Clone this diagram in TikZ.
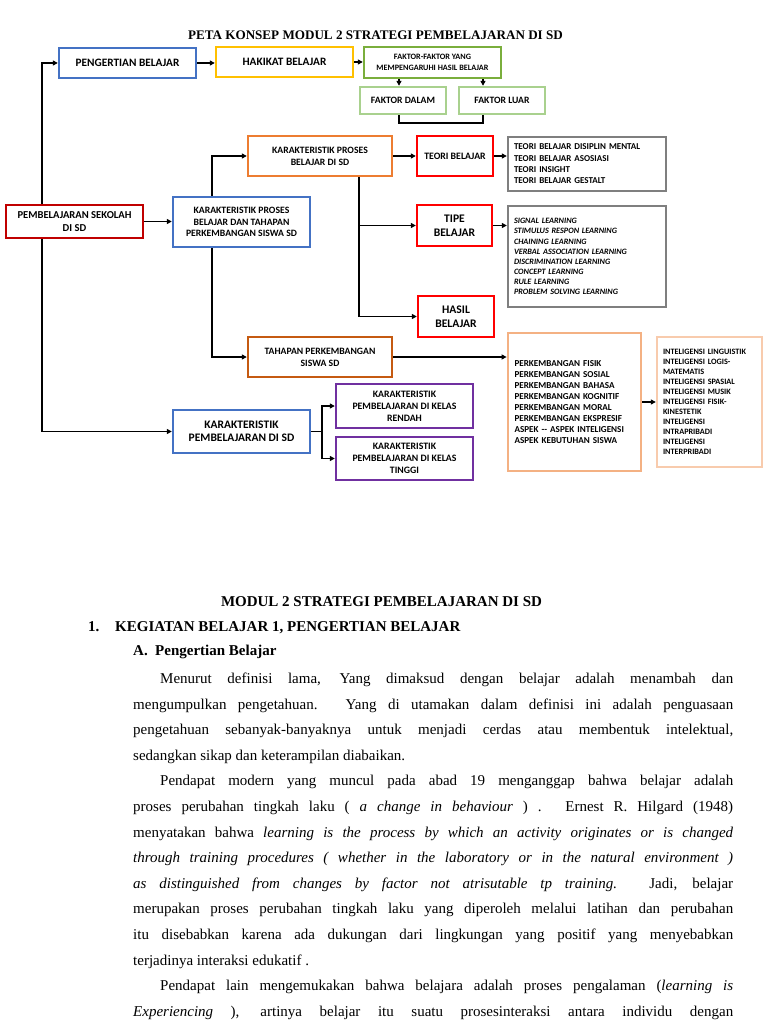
\documentclass[tikz,border=0pt]{standalone}
\usepackage{fontspec}
\setmainfont{Liberation Serif}
\newfontfamily\calfont{Carlito}
\usetikzlibrary{arrows.meta}
\newcommand\fsz[2]{\fontsize{#1}{#2}\selectfont}
\definecolor{cblue}{HTML}{4472C4}
\definecolor{cgold}{HTML}{FFC000}
\definecolor{cgreen}{HTML}{7AAE3C}
\definecolor{clgreen}{HTML}{A9D18E}
\definecolor{cdred}{HTML}{C00000}
\definecolor{corange}{HTML}{ED7D31}
\definecolor{cred}{HTML}{FF0000}
\definecolor{cgray}{HTML}{7F7F7F}
\definecolor{cbrown}{HTML}{C55A11}
\definecolor{cpeach}{HTML}{F4B183}
\definecolor{clpeach}{HTML}{F8CBAD}
\definecolor{cpurple}{HTML}{7030A0}
\tikzset{
  box/.style={draw=#1, line width=2.4pt, align=center, inner sep=1pt, fill=white, font=\calfont\bfseries},
  listbox/.style={draw=#1, line width=2.4pt, align=left, inner xsep=6pt, inner ysep=1pt, fill=white, font=\calfont\bfseries},
  arr/.style={-{Triangle[length=5pt,width=5pt]}, line width=1.5pt},
  con/.style={line width=1.5pt},
  txt/.style={inner sep=0pt, font=\fsz{15}{18}},
  hd/.style={inner sep=0pt, font=\bfseries\fsz{15}{18}}
}
\begin{document}
\begin{tikzpicture}[x=1pt,y=-1pt]
\fill[white] (0,0) rectangle (768,1024);
\useasboundingbox (0,0) rectangle (768,1024);

% title
\node[anchor=base, inner sep=0pt, font=\bfseries\fsz{13.1}{15}] (title) at (375.5,40) {PETA KONSEP MODUL 2 STRATEGI PEMBELAJARAN DI SD};

% top row
\node[box=cblue, minimum width=137pt, minimum height=30pt, font=\calfont\bfseries\fsz{11.3}{13}] (peng) at (127.5,63) {PENGERTIAN BELAJAR};
\node[box=cgold, minimum width=137pt, minimum height=30pt, font=\calfont\bfseries\fsz{11.3}{13}] (hak) at (284.5,62) {HAKIKAT BELAJAR};
\node[box=cgreen, minimum width=137pt, minimum height=31pt, font=\calfont\bfseries\fsz{8.2}{11}] (fak) at (432.5,62.5) {FAKTOR-FAKTOR YANG\\MEMPENGARUHI HASIL BELAJAR};
\node[box=clgreen, minimum width=86pt, minimum height=27pt, font=\calfont\bfseries\fsz{9.7}{11}] (dalam) at (403,100.5) {FAKTOR DALAM};
\node[box=clgreen, minimum width=86pt, minimum height=27pt, font=\calfont\bfseries\fsz{9.7}{11}] (luar) at (502,100.5) {FAKTOR LUAR};

% main left
\node[box=cdred, minimum width=137pt, minimum height=33pt, font=\calfont\bfseries\fsz{10.6}{13}] (pem) at (74.5,221.5) {PEMBELAJARAN SEKOLAH\\DI SD};
\node[box=cblue, minimum width=137pt, minimum height=50pt, font=\calfont\bfseries\fsz{9.7}{11.5}] (kpb) at (241.5,222) {KARAKTERISTIK PROSES\\BELAJAR DAN TAHAPAN\\PERKEMBANGAN SISWA SD};
\node[box=corange, minimum width=144pt, minimum height=40pt, font=\calfont\bfseries\fsz{9.7}{12}] (kpbs) at (320,156) {KARAKTERISTIK PROSES\\BELAJAR DI SD};
\node[box=cbrown, minimum width=144pt, minimum height=40pt, font=\calfont\bfseries\fsz{9.7}{12}] (tahap) at (320,357) {TAHAPAN PERKEMBANGAN\\SISWA SD};

% red boxes
\node[box=cred, minimum width=76pt, minimum height=40pt, font=\calfont\bfseries\fsz{9.8}{12}] (teori) at (455,156) {TEORI BELAJAR};
\node[box=cred, minimum width=75pt, minimum height=41pt, font=\calfont\bfseries\fsz{11.6}{14}] (tipe) at (454.5,225.5) {TIPE\\BELAJAR};
\node[box=cred, minimum width=76pt, minimum height=41pt, font=\calfont\bfseries\fsz{11.6}{14}] (hasil) at (456,316.5) {HASIL\\BELAJAR};

% lists
\node[listbox=cgray, minimum width=158pt, minimum height=54pt, text width=146pt, font=\calfont\bfseries\fsz{9}{11.3}] (teorilist) at (587,164) {TEORI BELAJAR DISIPLIN MENTAL\\TEORI BELAJAR ASOSIASI\\TEORI INSIGHT\\TEORI BELAJAR GESTALT};
\node[listbox=cgray, minimum width=158pt, minimum height=101pt, text width=146pt, font=\calfont\bfseries\itshape\fsz{8.2}{10.1}] (tipelist) at (587,256.5) {SIGNAL LEARNING\\STIMULUS RESPON LEARNING\\CHAINING LEARNING\\VERBAL ASSOCIATION LEARNING\\DISCRIMINATION LEARNING\\CONCEPT LEARNING\\RULE LEARNING\\PROBLEM SOLVING LEARNING};
\node[listbox=cpeach, line width=2.8pt, minimum width=133pt, minimum height=138pt, text width=120pt, font=\calfont\bfseries\fsz{9.1}{11.1}] (perk) at (574.5,402) {PERKEMBANGAN FISIK\\PERKEMBANGAN SOSIAL\\PERKEMBANGAN BAHASA\\PERKEMBANGAN KOGNITIF\\PERKEMBANGAN MORAL\\PERKEMBANGAN EKSPRESIF\\ASPEK -- ASPEK INTELIGENSI\\ASPEK KEBUTUHAN SISWA};
\node[listbox=clpeach, minimum width=105pt, minimum height=130pt, text width=93pt, font=\calfont\bfseries\fsz{8.2}{10}] (intel) at (709.5,402) {INTELIGENSI LINGUISTIK\\INTELIGENSI LOGIS-\\MATEMATIS\\INTELIGENSI SPASIAL\\INTELIGENSI MUSIK\\INTELIGENSI FISIK-\\KINESTETIK\\INTELIGENSI\\INTRAPRIBADI\\INTELIGENSI\\INTERPRIBADI};

% bottom group
\node[box=cblue, minimum width=137pt, minimum height=43pt, font=\calfont\bfseries\fsz{11.5}{13}] (kpsd) at (241.5,431.5) {KARAKTERISTIK\\PEMBELAJARAN DI SD};
\node[box=cpurple, minimum width=137pt, minimum height=44pt, font=\calfont\bfseries\fsz{9.8}{12}] (rendah) at (404.5,406) {KARAKTERISTIK\\PEMBELAJARAN DI KELAS\\RENDAH};
\node[box=cpurple, minimum width=137pt, minimum height=43pt, font=\calfont\bfseries\fsz{9.8}{12}] (tinggi) at (404.5,458.5) {KARAKTERISTIK\\PEMBELAJARAN DI KELAS\\TINGGI};

% connector coordinates
\coordinate (sp) at (42,0);
\coordinate (k2) at (212,0);
\coordinate (k3) at (359,0);
\coordinate (k4) at (322,0);
\coordinate (dl) at (399,0);
\coordinate (fl) at (483,0);

% connectors
\draw[arr] (sp |- pem.north) |- (peng.west);
\draw[arr] (sp |- pem.south) |- (kpsd.west);
\draw[arr] (pem.east) -- (pem.east -| kpb.west);
\draw[arr] (peng.east) -- (peng.east -| hak.west);
\draw[arr] (hak.east) -- (hak.east -| fak.west);
\draw[arr] (dl |- fak.south) -- (dl |- dalam.north);
\draw[arr] (fl |- fak.south) -- (fl |- luar.north);
\draw[con] (dl |- dalam.south) -- ++(0,8) -| (fl |- luar.south);
\draw[arr] (k2 |- kpb.north) |- (kpbs.west);
\draw[arr] (k2 |- kpb.south) |- (tahap.west);
\draw[arr] (kpbs.east) -- (kpbs.east -| teori.west);
\draw[arr] (k3 |- kpbs.south) |- (hasil.west);
\draw[arr] (k3 |- tipe.west) -- (tipe.west);
\draw[arr] (teori.east) -- (teori.east -| teorilist.west);
\draw[arr] (tipe.east) -- (tipe.east -| tipelist.west);
\draw[arr] (tahap.east) -- (tahap.east -| perk.west);
\draw[arr] (perk.east) -- (perk.east -| intel.west);
\draw[con] (kpsd.east) -- (k4 |- kpsd.east);
\draw[arr] (k4 |- kpsd.east) |- (rendah.west);
\draw[arr] (k4 |- kpsd.east) |- (tinggi.west);

% text section
\node[hd, anchor=base] (mt) at (381.5,606) {MODUL 2 STRATEGI PEMBELAJARAN DI SD};
\node[hd, anchor=base west] (n1) at (88,631) {1.};
\node[hd, anchor=base west] (h1) at (115,631) {KEGIATAN BELAJAR 1, PENGERTIAN BELAJAR};
\node[hd, anchor=base west] (nA) at (133,655) {A.};
\node[hd, anchor=base west] (hA) at (155,655) {Pengertian Belajar};

\node[txt, anchor=base west] (l1) at (160,683.5) {\makebox[573pt][s]{Menurut definisi lama, Yang dimaksud dengan belajar adalah menambah dan}};
\node[txt, anchor=base west] (l2) at (133,709.1) {\makebox[600pt][s]{mengumpulkan pengetahuan. Yang di utamakan dalam definisi ini adalah penguasaan}};
\node[txt, anchor=base west] (l3) at (133,734.7) {\makebox[600pt][s]{pengetahuan sebanyak-banyaknya untuk menjadi cerdas atau membentuk intelektual,}};
\node[txt, anchor=base west] (l4) at (133,760.3) {sedangkan sikap dan keterampilan diabaikan.};
\node[txt, anchor=base west] (l5) at (160,785.9) {\makebox[573pt][s]{Pendapat modern yang muncul pada abad 19 menganggap bahwa belajar adalah}};
\node[txt, anchor=base west] (l6) at (133,811.5) {\makebox[600pt][s]{proses perubahan tingkah laku ( \textit{a change in behaviour} ) . Ernest R. Hilgard (1948)}};
\node[txt, anchor=base west] (l7) at (133,837.1) {\makebox[600pt][s]{menyatakan bahwa \textit{learning is the process by which an activity originates or is changed}}};
\node[txt, anchor=base west] (l8) at (133,862.7) {\makebox[600pt][s]{\itshape through training procedures ( whether in the laboratory or in the natural environment )}};
\node[txt, anchor=base west] (l9) at (133,888.3) {\makebox[600pt][s]{\textit{as distinguished from changes by factor not atrisutable tp training.} Jadi, belajar}};
\node[txt, anchor=base west] (l10) at (133,913.9) {\makebox[600pt][s]{merupakan proses perubahan tingkah laku yang diperoleh melalui latihan dan perubahan}};
\node[txt, anchor=base west] (l11) at (133,939.5) {\makebox[600pt][s]{itu disebabkan karena ada dukungan dari lingkungan yang positif yang menyebabkan}};
\node[txt, anchor=base west] (l12) at (133,965.1) {terjadinya interaksi edukatif .};
\node[txt, anchor=base west] (l13) at (160,990.7) {\makebox[573pt][s]{Pendapat lain mengemukakan bahwa belajara adalah proses pengalaman (\textit{learning is}}};
\node[txt, anchor=base west] (l14) at (133,1016.3) {\makebox[600pt][s]{\textit{Experiencing} ), artinya belajar itu suatu prosesinteraksi antara individu dengan}};
\end{tikzpicture}
\end{document}
